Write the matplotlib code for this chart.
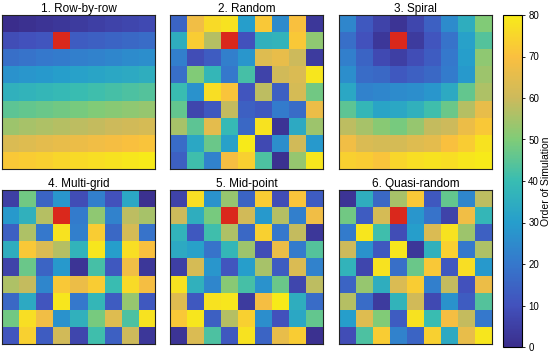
import numpy as np
import matplotlib
matplotlib.use('Agg')
import matplotlib.pyplot as plt
from matplotlib.colors import LinearSegmentedColormap

plt.rcParams['font.family'] = ['Liberation Sans', 'DejaVu Sans']

# muted parula-like colormap, matched to the reference colour bar
PARULA = [
    (0.000, (0.23, 0.18, 0.55)),
    (0.125, (0.26, 0.32, 0.74)),
    (0.250, (0.21, 0.47, 0.80)),
    (0.375, (0.15, 0.62, 0.80)),
    (0.500, (0.22, 0.74, 0.70)),
    (0.625, (0.50, 0.80, 0.47)),
    (0.750, (0.80, 0.73, 0.36)),
    (0.875, (0.98, 0.75, 0.25)),
    (1.000, (0.97, 0.92, 0.10)),
]

titles = ['1. Row-by-row', '2. Random', '3. Spiral',
          '4. Multi-grid', '5. Mid-point', '6. Quasi-random']

# current node (drawn red) at row 1, column 3
current = (1, 3)

row_by_row = [
    [0, 1, 2, 3, 4, 5, 6, 7, 8],
    [9, 10, 11, 12, 13, 14, 15, 16, 17],
    [18, 19, 20, 21, 22, 23, 24, 25, 26],
    [27, 28, 29, 30, 31, 32, 33, 34, 35],
    [36, 37, 38, 39, 40, 41, 42, 43, 44],
    [45, 46, 47, 48, 49, 50, 51, 52, 53],
    [54, 55, 56, 57, 58, 59, 60, 61, 62],
    [63, 64, 65, 66, 67, 68, 69, 70, 71],
    [72, 73, 74, 75, 76, 77, 78, 79, 80],
]
random_order = [
    [15, 68, 76, 78, 30, 72, 25, 70, 3],
    [35, 73, 57, 0, 10, 36, 37, 72, 52],
    [22, 9, 13, 22, 28, 64, 66, 60, 4],
    [18, 50, 38, 20, 42, 6, 61, 63, 79],
    [40, 27, 77, 71, 11, 58, 14, 62, 48],
    [46, 7, 12, 59, 14, 12, 21, 17, 67],
    [55, 45, 65, 39, 16, 78, 2, 34, 54],
    [17, 33, 47, 31, 80, 8, 26, 61, 29],
    [14, 41, 23, 69, 74, 43, 1, 53, 79],
]
spiral = [
    [24, 12, 6, 2, 7, 14, 25, 35, 50],
    [18, 10, 3, 0, 4, 11, 19, 31, 44],
    [22, 15, 8, 5, 9, 13, 20, 30, 52],
    [26, 17, 16, 12, 14, 16, 21, 29, 54],
    [33, 23, 24, 25, 26, 28, 34, 46, 56],
    [45, 38, 32, 33, 36, 41, 47, 57, 66],
    [58, 55, 51, 49, 53, 59, 60, 67, 72],
    [68, 63, 62, 62, 64, 65, 70, 73, 78],
    [74, 73, 71, 75, 77, 78, 77, 79, 80],
]
multi_grid = [
    [5, 48, 15, 28, 9, 22, 10, 33, 1],
    [29, 36, 57, 0, 21, 52, 23, 58, 55],
    [14, 56, 20, 78, 22, 73, 16, 62, 19],
    [35, 72, 63, 57, 37, 79, 30, 77, 70],
    [6, 47, 15, 29, 2, 42, 12, 68, 3],
    [56, 59, 24, 72, 67, 73, 40, 76, 69],
    [16, 34, 11, 79, 20, 38, 13, 53, 12],
    [48, 77, 68, 27, 36, 49, 64, 43, 78],
    [11, 74, 13, 61, 7, 41, 14, 60, 3],
]
mid_point = [
    [6, 77, 27, 53, 15, 73, 9, 71, 13],
    [60, 35, 49, 0, 61, 29, 57, 22, 68],
    [37, 12, 41, 56, 16, 74, 20, 59, 3],
    [34, 31, 19, 38, 54, 9, 67, 21, 44],
    [5, 62, 28, 11, 30, 55, 13, 63, 23],
    [78, 36, 24, 51, 42, 27, 47, 7, 58],
    [64, 12, 78, 79, 4, 69, 80, 35, 17],
    [72, 79, 14, 57, 74, 26, 10, 33, 46],
    [2, 63, 43, 12, 78, 15, 66, 73, 1],
]
quasi_random = [
    [2, 35, 16, 55, 72, 12, 46, 24, 58],
    [48, 13, 62, 0, 28, 19, 6, 68, 38],
    [21, 79, 41, 9, 30, 63, 78, 54, 14],
    [60, 27, 12, 79, 3, 36, 74, 20, 56],
    [37, 7, 78, 18, 47, 72, 12, 77, 29],
    [15, 53, 35, 63, 73, 22, 59, 10, 67],
    [57, 17, 4, 37, 61, 8, 27, 13, 44],
    [30, 64, 50, 13, 78, 40, 69, 59, 20],
    [9, 43, 73, 23, 15, 74, 34, 66, 79],
]
grids = [row_by_row, random_order, spiral, multi_grid, mid_point, quasi_random]

W, H = 553, 352


def px_rect(left, top, w, h):
    return [left / W, 1 - (top + h) / H, w / W, h / H]


cmap = LinearSegmentedColormap.from_list('parula', PARULA)
cmap.set_bad('#da281c')

fig = plt.figure(figsize=(W / 100, H / 100), dpi=100)

lefts = [2, 170, 339]
tops = [15, 190]
im = None
for i, (grid, title) in enumerate(zip(grids, titles)):
    ax = fig.add_axes(px_rect(lefts[i % 3], tops[i // 3], 153, 154))
    data = np.array(grid, dtype=float)
    data[current] = np.nan
    im = ax.imshow(data, cmap=cmap, vmin=0, vmax=80, aspect='auto',
                   interpolation='nearest')
    ax.set_xticks([])
    ax.set_yticks([])
    for s in ax.spines.values():
        s.set_linewidth(0.8)
        s.set_color('#222222')
    ax.set_title(title, fontsize=8.5, pad=2)

cax = fig.add_axes(px_rect(503, 15, 19, 332))
cb = fig.colorbar(im, cax=cax, ticks=range(0, 81, 10))
cb.outline.set_linewidth(0.8)
cb.ax.tick_params(labelsize=7, length=2.5, width=0.6, pad=2)
cb.set_label('Order of Simulation', fontsize=7.5, labelpad=1)

fig.savefig('out.png', dpi=100)
